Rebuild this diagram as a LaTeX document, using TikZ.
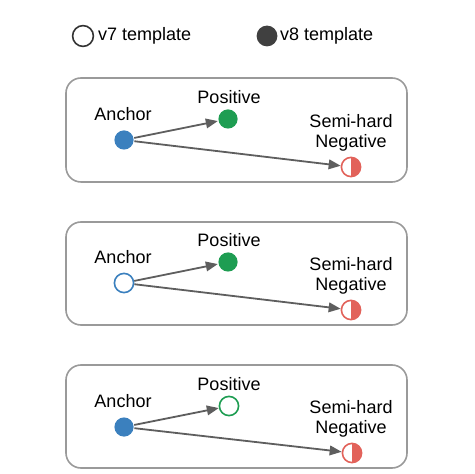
\documentclass[tikz,border=0pt]{standalone}
\usepackage{fontspec}
\setmainfont{Liberation Sans}
\usetikzlibrary{arrows.meta}
\definecolor{ancblue}{HTML}{3B80BE}
\definecolor{posgreen}{HTML}{1E9D52}
\definecolor{negred}{HTML}{E2625A}
\definecolor{boxgray}{HTML}{9A9A9A}
\definecolor{edgegray}{HTML}{5E5E5E}
\begin{document}
\begin{tikzpicture}[x=0.5pt,y=-0.5pt,
		font=\fontsize{9}{10}\selectfont,
		dot/.style={shape=circle,minimum size=9.6pt,inner sep=0pt,line width=0.8pt},
		keydot/.style={dot,minimum size=10.4pt},
		halfdot/.style={dot,draw=negred,fill=white,path picture={\fill[negred] (path picture bounding box.north) rectangle (path picture bounding box.south east);}},
		panel/.style={draw=boxgray,line width=0.8pt,rounded corners=7.5pt},
		edge/.style={draw=edgegray,line width=0.9pt,-{Triangle[length=6pt,width=4.8pt]}}]
		\useasboundingbox (0,0) rectangle (474,474);
		% legend
		\node[keydot,draw=black!80] (o) at (83,36) {};
		\node[anchor=west] (ot) at (91,36) {v7 template};
		\node[keydot,fill=black!75] (f) at (267,36) {};
		\node[anchor=west] (ft) at (273,36) {v8 template};
		% panel 1
		\draw[panel] (66,78) rectangle (407,182);
		\node[dot,fill=ancblue] (a1) at (124,140) {};
		\node[dot,fill=posgreen] (p1) at (228,119) {};
		\node[halfdot] (n1) at (351,167) {};
		\node (la1) at (123,114) {Anchor};
		\node (lp1) at (229,97) {Positive};
		\node[align=center] (ln1) at (351,133) {Semi-hard\\Negative};
		\draw[edge] (a1) -- (p1);
		\draw[edge] (a1) -- (n1);
		% panel 2
		\draw[panel] (66,222) rectangle (407,325);
		\node[dot,draw=ancblue,fill=white] (a2) at (124,283) {};
		\node[dot,fill=posgreen] (p2) at (228,262) {};
		\node[halfdot] (n2) at (351,310) {};
		\node (la2) at (123,257) {Anchor};
		\node (lp2) at (229,240) {Positive};
		\node[align=center] (ln2) at (351,276) {Semi-hard\\Negative};
		\draw[edge] (a2) -- (p2);
		\draw[edge] (a2) -- (n2);
		% panel 3
		\draw[panel] (66,365) rectangle (407,468);
		\node[dot,fill=ancblue] (a3) at (124,427) {};
		\node[dot,draw=posgreen,fill=white] (p3) at (229,406) {};
		\node[halfdot] (n3) at (352,453) {};
		\node (la3) at (123,401) {Anchor};
		\node (lp3) at (229,384) {Positive};
		\node[align=center] (ln3) at (351,419) {Semi-hard\\Negative};
		\draw[edge] (a3) -- (p3);
		\draw[edge] (a3) -- (n3);
\end{tikzpicture}
\end{document}
